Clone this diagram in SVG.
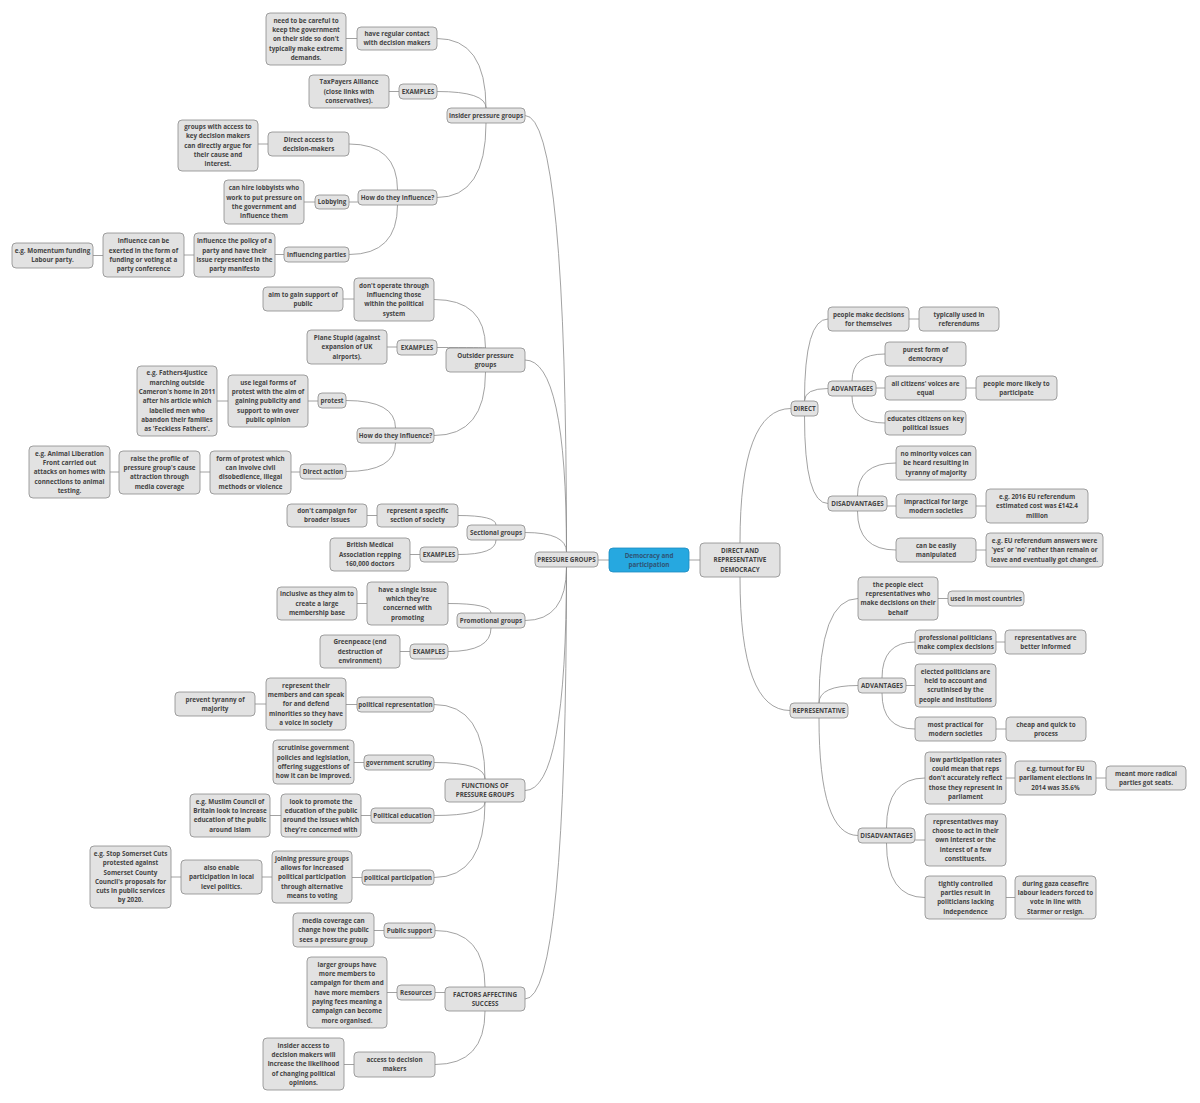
<svg xmlns="http://www.w3.org/2000/svg" width="1200" height="1103" viewBox="0 0 1200 1103">
<style>
rect{fill:#e2e2e2;stroke:#8a8a8a;stroke-width:0.8}
text{font-family:"Open Sans","Noto Sans",sans-serif;font-weight:bold;font-size:6.3px;fill:#444;text-anchor:middle}
#conn path{fill:none;stroke:#8a8a8a;stroke-width:0.8}
#root rect{fill:#26a8e0;stroke:#1d8ac0}
#root text{fill:#2f5475}
</style>
<rect x="0" y="0" width="1200" height="1103" style="fill:#fff;stroke:none"/>
<g id="conn">
<path d="M609,560H598M689,560H700"/>
<path d="M566.5,552Q566.5,115.5 525,115.5M566.5,552Q566.5,360 525,360M566.5,552Q566.5,532.5 525,532.5M566.5,567Q566.5,620.5 525,620.5M566.5,567Q566.5,790.5 525,790.5M566.5,567Q566.5,999 525,999"/>
<path d="M486,108Q486,38.5 437,38.5M486,108Q486,91.5 437,91.5M486,123Q486,197.5 437,197.5M357,38.5H346M399,91.5H389"/>
<path d="M397.5,190Q397.5,144 349,144M358,202H349M397.5,205Q397.5,254.5 349,254.5M268,144H258M315,202H304M284,254.5H275M194,255H184M103,255.5H93"/>
<path d="M485.5,348Q485.5,299.5 434,299.5M485.5,348Q485.5,347.5 437,347.5M485.5,372Q485.5,435.5 434,435.5M354,299H343M397,347H387"/>
<path d="M395.5,428Q395.5,400.5 346,400.5M395.5,443Q395.5,471.5 346,471.5M318,401H308M228,401H217M300,472H291M210,472H200M119,472H110"/>
<path d="M496,525Q496,515.5 458,515.5M496,540Q496,554.5 458,554.5M377,515.5H367M420,554.5H410"/>
<path d="M491,613Q491,603.5 448,603.5M491,628Q491,651.5 448,651.5M367,603.5H357M410,651.5H400"/>
<path d="M485,779Q485,704.5 434,704.5M485,779Q485,762.5 434,762.5M485,802Q485,815.5 434,815.5M485,802Q485,877.5 434,877.5M357,704.5H346M266,704H255M364,762.5H354M371,815.5H361M281,815.5H270M362,877.5H352M272,877H262M181,877H171"/>
<path d="M485,987Q485,930.5 435,930.5M445,992.5H435M485,1011Q485,1064.5 435,1064.5M384,930.5H374M397,992.5H387M354,1064.5H344"/>
<path d="M740,543Q740,408.5 791,408.5M740,577Q740,710.5 790,710.5"/>
<path d="M804.5,401Q804.5,319 828,319M804.5,401Q804.5,388.5 828,388.5M804.5,416Q804.5,503.5 828,503.5M909,319H919"/>
<path d="M852,381Q852,354 885,354M876,388H885M852,396Q852,423 885,423M966,388H976"/>
<path d="M857.5,496Q857.5,463 896,463M887,506H896M857.5,511Q857.5,550 896,550M976,506H986M976,550H986"/>
<path d="M819,703Q819,598.5 858,598.5M819,703Q819,685.5 858,685.5M819,718Q819,835.5 858,835.5M938,598.5H948"/>
<path d="M882,678Q882,642 915,642M906,685.5H915M882,693Q882,729 915,729M996,642H1005M996,729H1006"/>
<path d="M886.5,828Q886.5,778 925,778M915,840H925M886.5,843Q886.5,897.5 925,897.5M1006,778H1015M1096,778H1106M1006,897.5H1015"/>
</g>
<g id="root"><rect x="609" y="548" width="80" height="24" rx="4"/><text y="557.55"><tspan x="649">Democracy and</tspan><tspan x="649" dy="9.3">participation</tspan></text></g>
<g id="pg"><rect x="535" y="552" width="63" height="15" rx="4"/><text y="561.7"><tspan x="566.5">PRESSURE GROUPS</tspan></text></g>
<g id="dr"><rect x="700" y="543" width="80" height="34" rx="4"/><text y="552.9"><tspan x="740">DIRECT AND</tspan><tspan x="740" dy="9.3">REPRESENTATIVE</tspan><tspan x="740" dy="9.3">DEMOCRACY</tspan></text></g>

<g id="ins"><rect x="447" y="108" width="78" height="15" rx="4"/><text y="117.7"><tspan x="486">insider pressure groups</tspan></text></g>
<g id="ins1"><rect x="357" y="27" width="80" height="23" rx="4"/><text y="36.05"><tspan x="397">have regular contact</tspan><tspan x="397" dy="9.3">with decision makers</tspan></text></g>
<g id="ins1a"><rect x="266" y="13" width="80" height="52" rx="4"/><text y="22.6"><tspan x="306">need to be careful to</tspan><tspan x="306" dy="9.3">keep the government</tspan><tspan x="306" dy="9.3">on their side so don't</tspan><tspan x="306" dy="9.3">typically make extreme</tspan><tspan x="306" dy="9.3">demands.</tspan></text></g>
<g id="ins2"><rect x="399" y="84" width="38" height="15" rx="4"/><text y="93.7"><tspan x="418">EXAMPLES</tspan></text></g>
<g id="ins2a"><rect x="309" y="75" width="80" height="33" rx="4"/><text y="84.4"><tspan x="349">TaxPayers Alliance</tspan><tspan x="349" dy="9.3">(close links with</tspan><tspan x="349" dy="9.3">conservatives).</tspan></text></g>
<g id="ins3"><rect x="358" y="190" width="79" height="15" rx="4"/><text y="199.7"><tspan x="397.5">How do they influence?</tspan></text></g>
<g id="ins3a"><rect x="268" y="132" width="81" height="24" rx="4"/><text y="141.55"><tspan x="308.5">Direct access to</tspan><tspan x="308.5" dy="9.3">decision-makers</tspan></text></g>
<g id="ins3a1"><rect x="178" y="120" width="80" height="51" rx="4"/><text y="129.1"><tspan x="218">groups with access to</tspan><tspan x="218" dy="9.3">key decision makers</tspan><tspan x="218" dy="9.3">can directly argue for</tspan><tspan x="218" dy="9.3">their cause and</tspan><tspan x="218" dy="9.3">interest.</tspan></text></g>
<g id="ins3b"><rect x="315" y="195" width="34" height="14" rx="4"/><text y="204.2"><tspan x="332">Lobbying</tspan></text></g>
<g id="ins3b1"><rect x="224" y="180" width="80" height="44" rx="4"/><text y="190.25"><tspan x="264">can hire lobbyists who</tspan><tspan x="264" dy="9.3">work to put pressure on</tspan><tspan x="264" dy="9.3">the government and</tspan><tspan x="264" dy="9.3">influence them</tspan></text></g>
<g id="ins3c"><rect x="284" y="247" width="65" height="15" rx="4"/><text y="256.7"><tspan x="316.5">influencing parties</tspan></text></g>
<g id="ins3c1"><rect x="194" y="233" width="81" height="44" rx="4"/><text y="243.25"><tspan x="234.5">influence the policy of a</tspan><tspan x="234.5" dy="9.3">party and have their</tspan><tspan x="234.5" dy="9.3">issue represented in the</tspan><tspan x="234.5" dy="9.3">party manifesto</tspan></text></g>
<g id="ins3c2"><rect x="103" y="233" width="81" height="44" rx="4"/><text y="243.25"><tspan x="143.5">influence can be</tspan><tspan x="143.5" dy="9.3">exerted in the form of</tspan><tspan x="143.5" dy="9.3">funding or voting at a</tspan><tspan x="143.5" dy="9.3">party conference</tspan></text></g>
<g id="ins3c3"><rect x="12" y="243" width="81" height="25" rx="4"/><text y="253.05"><tspan x="52.5">e.g. Momentum funding</tspan><tspan x="52.5" dy="9.3">Labour party.</tspan></text></g>

<g id="out"><rect x="446" y="348" width="79" height="24" rx="4"/><text y="357.55"><tspan x="485.5">Outsider pressure</tspan><tspan x="485.5" dy="9.3">groups</tspan></text></g>
<g id="out1"><rect x="354" y="278" width="80" height="43" rx="4"/><text y="287.75"><tspan x="394">don't operate through</tspan><tspan x="394" dy="9.3">influencing those</tspan><tspan x="394" dy="9.3">within the political</tspan><tspan x="394" dy="9.3">system</tspan></text></g>
<g id="out1a"><rect x="263" y="287" width="80" height="24" rx="4"/><text y="296.55"><tspan x="303">aim to gain support of</tspan><tspan x="303" dy="9.3">public</tspan></text></g>
<g id="out2"><rect x="397" y="340" width="40" height="15" rx="4"/><text y="349.7"><tspan x="417">EXAMPLES</tspan></text></g>
<g id="out2a"><rect x="307" y="330" width="80" height="34" rx="4"/><text y="339.9"><tspan x="347">Plane Stupid (against</tspan><tspan x="347" dy="9.3">expansion of UK</tspan><tspan x="347" dy="9.3">airports).</tspan></text></g>
<g id="out3"><rect x="357" y="428" width="77" height="15" rx="4"/><text y="437.7"><tspan x="395.5">How do they influence?</tspan></text></g>
<g id="out3a"><rect x="318" y="393" width="28" height="15" rx="4"/><text y="402.7"><tspan x="332">protest</tspan></text></g>
<g id="out3a1"><rect x="228" y="375" width="80" height="52" rx="4"/><text y="384.6"><tspan x="268">use legal forms of</tspan><tspan x="268" dy="9.3">protest with the aim of</tspan><tspan x="268" dy="9.3">gaining publicity and</tspan><tspan x="268" dy="9.3">support to win over</tspan><tspan x="268" dy="9.3">public opinion</tspan></text></g>
<g id="out3a2"><rect x="137" y="366" width="80" height="70" rx="4"/><text y="375.3"><tspan x="177">e.g. Fathers4Justice</tspan><tspan x="177" dy="9.3">marching outside</tspan><tspan x="177" dy="9.3">Cameron's home in 2011</tspan><tspan x="177" dy="9.3">after his article which</tspan><tspan x="177" dy="9.3">labelled men who</tspan><tspan x="177" dy="9.3">abandon their families</tspan><tspan x="177" dy="9.3">as 'Feckless Fathers'.</tspan></text></g>
<g id="out3b"><rect x="300" y="464" width="46" height="15" rx="4"/><text y="473.7"><tspan x="323">Direct action</tspan></text></g>
<g id="out3b1"><rect x="210" y="451" width="81" height="43" rx="4"/><text y="460.75"><tspan x="250.5">form of protest which</tspan><tspan x="250.5" dy="9.3">can involve civil</tspan><tspan x="250.5" dy="9.3">disobedience, illegal</tspan><tspan x="250.5" dy="9.3">methods or violence</tspan></text></g>
<g id="out3b2"><rect x="119" y="451" width="81" height="43" rx="4"/><text y="460.75"><tspan x="159.5">raise the profile of</tspan><tspan x="159.5" dy="9.3">pressure group's cause</tspan><tspan x="159.5" dy="9.3">attraction through</tspan><tspan x="159.5" dy="9.3">media coverage</tspan></text></g>
<g id="out3b3"><rect x="29" y="446" width="81" height="52" rx="4"/><text y="455.6"><tspan x="69.5">e.g. Animal Liberation</tspan><tspan x="69.5" dy="9.3">Front carried out</tspan><tspan x="69.5" dy="9.3">attacks on homes with</tspan><tspan x="69.5" dy="9.3">connections to animal</tspan><tspan x="69.5" dy="9.3">testing.</tspan></text></g>

<g id="sec"><rect x="467" y="525" width="58" height="15" rx="4"/><text y="534.7"><tspan x="496">Sectional groups</tspan></text></g>
<g id="sec1"><rect x="377" y="504" width="81" height="23" rx="4"/><text y="513.05"><tspan x="417.5">represent a specific</tspan><tspan x="417.5" dy="9.3">section of society</tspan></text></g>
<g id="sec1a"><rect x="287" y="504" width="80" height="23" rx="4"/><text y="513.05"><tspan x="327">don't campaign for</tspan><tspan x="327" dy="9.3">broader issues</tspan></text></g>
<g id="sec2"><rect x="420" y="547" width="38" height="15" rx="4"/><text y="556.7"><tspan x="439">EXAMPLES</tspan></text></g>
<g id="sec2a"><rect x="330" y="538" width="80" height="33" rx="4"/><text y="547.4"><tspan x="370">British Medical</tspan><tspan x="370" dy="9.3">Association repping</tspan><tspan x="370" dy="9.3">160,000 doctors</tspan></text></g>

<g id="pro"><rect x="457" y="613" width="68" height="15" rx="4"/><text y="622.7"><tspan x="491">Promotional groups</tspan></text></g>
<g id="pro1"><rect x="367" y="582" width="81" height="43" rx="4"/><text y="591.75"><tspan x="407.5">have a single issue</tspan><tspan x="407.5" dy="9.3">which they're</tspan><tspan x="407.5" dy="9.3">concerned with</tspan><tspan x="407.5" dy="9.3">promoting</tspan></text></g>
<g id="pro1a"><rect x="277" y="587" width="80" height="33" rx="4"/><text y="596.4"><tspan x="317">inclusive as they aim to</tspan><tspan x="317" dy="9.3">create a large</tspan><tspan x="317" dy="9.3">membership base</tspan></text></g>
<g id="pro2"><rect x="410" y="644" width="38" height="15" rx="4"/><text y="653.7"><tspan x="429">EXAMPLES</tspan></text></g>
<g id="pro2a"><rect x="320" y="635" width="80" height="33" rx="4"/><text y="644.4"><tspan x="360">Greenpeace (end</tspan><tspan x="360" dy="9.3">destruction of</tspan><tspan x="360" dy="9.3">environment)</tspan></text></g>

<g id="fun"><rect x="445" y="779" width="80" height="23" rx="4"/><text y="788.05"><tspan x="485">FUNCTIONS OF</tspan><tspan x="485" dy="9.3">PRESSURE GROUPS</tspan></text></g>
<g id="fun1"><rect x="357" y="697" width="77" height="15" rx="4"/><text y="706.7"><tspan x="395.5">political representation</tspan></text></g>
<g id="fun1a"><rect x="266" y="678" width="80" height="52" rx="4"/><text y="687.6"><tspan x="306">represent their</tspan><tspan x="306" dy="9.3">members and can speak</tspan><tspan x="306" dy="9.3">for and defend</tspan><tspan x="306" dy="9.3">minorities so they have</tspan><tspan x="306" dy="9.3">a voice in society</tspan></text></g>
<g id="fun1b"><rect x="175" y="692" width="80" height="24" rx="4"/><text y="701.55"><tspan x="215">prevent tyranny of</tspan><tspan x="215" dy="9.3">majority</tspan></text></g>
<g id="fun2"><rect x="364" y="755" width="70" height="15" rx="4"/><text y="764.7"><tspan x="399">government scrutiny</tspan></text></g>
<g id="fun2a"><rect x="273" y="740" width="81" height="44" rx="4"/><text y="750.25"><tspan x="313.5">scrutinise government</tspan><tspan x="313.5" dy="9.3">policies and legislation,</tspan><tspan x="313.5" dy="9.3">offering suggestions of</tspan><tspan x="313.5" dy="9.3">how it can be improved.</tspan></text></g>
<g id="fun3"><rect x="371" y="808" width="63" height="15" rx="4"/><text y="817.7"><tspan x="402.5">Political education</tspan></text></g>
<g id="fun3a"><rect x="281" y="794" width="80" height="43" rx="4"/><text y="803.75"><tspan x="321">look to promote the</tspan><tspan x="321" dy="9.3">education of the public</tspan><tspan x="321" dy="9.3">around the issues which</tspan><tspan x="321" dy="9.3">they're concerned with</tspan></text></g>
<g id="fun3b"><rect x="190" y="794" width="80" height="43" rx="4"/><text y="803.75"><tspan x="230">e.g. Muslim Council of</tspan><tspan x="230" dy="9.3">Britain look to increase</tspan><tspan x="230" dy="9.3">education of the public</tspan><tspan x="230" dy="9.3">around Islam</tspan></text></g>
<g id="fun4"><rect x="362" y="870" width="72" height="15" rx="4"/><text y="879.7"><tspan x="398">political participation</tspan></text></g>
<g id="fun4a"><rect x="272" y="851" width="80" height="52" rx="4"/><text y="860.6"><tspan x="312">joining pressure groups</tspan><tspan x="312" dy="9.3">allows for increased</tspan><tspan x="312" dy="9.3">political participation</tspan><tspan x="312" dy="9.3">through alternative</tspan><tspan x="312" dy="9.3">means to voting</tspan></text></g>
<g id="fun4b"><rect x="181" y="860" width="81" height="34" rx="4"/><text y="869.9"><tspan x="221.5">also enable</tspan><tspan x="221.5" dy="9.3">participation in local</tspan><tspan x="221.5" dy="9.3">level politics.</tspan></text></g>
<g id="fun4c"><rect x="90" y="846" width="81" height="62" rx="4"/><text y="855.95"><tspan x="130.5">e.g. Stop Somerset Cuts</tspan><tspan x="130.5" dy="9.3">protested against</tspan><tspan x="130.5" dy="9.3">Somerset County</tspan><tspan x="130.5" dy="9.3">Council's proposals for</tspan><tspan x="130.5" dy="9.3">cuts in public services</tspan><tspan x="130.5" dy="9.3">by 2020.</tspan></text></g>

<g id="fac"><rect x="445" y="987" width="80" height="24" rx="4"/><text y="996.55"><tspan x="485">FACTORS AFFECTING</tspan><tspan x="485" dy="9.3">SUCCESS</tspan></text></g>
<g id="fac1"><rect x="384" y="923" width="51" height="15" rx="4"/><text y="932.7"><tspan x="409.5">Public support</tspan></text></g>
<g id="fac1a"><rect x="293" y="913" width="81" height="34" rx="4"/><text y="922.9"><tspan x="333.5">media coverage can</tspan><tspan x="333.5" dy="9.3">change how the public</tspan><tspan x="333.5" dy="9.3">sees a pressure group</tspan></text></g>
<g id="fac2"><rect x="397" y="985" width="38" height="15" rx="4"/><text y="994.7"><tspan x="416">Resources</tspan></text></g>
<g id="fac2a"><rect x="307" y="957" width="80" height="71" rx="4"/><text y="966.8"><tspan x="347">larger groups have</tspan><tspan x="347" dy="9.3">more members to</tspan><tspan x="347" dy="9.3">campaign for them and</tspan><tspan x="347" dy="9.3">have more members</tspan><tspan x="347" dy="9.3">paying fees meaning a</tspan><tspan x="347" dy="9.3">campaign can become</tspan><tspan x="347" dy="9.3">more organised.</tspan></text></g>
<g id="fac3"><rect x="354" y="1052" width="81" height="25" rx="4"/><text y="1062.05"><tspan x="394.5">access to decision</tspan><tspan x="394.5" dy="9.3">makers</tspan></text></g>
<g id="fac3a"><rect x="263" y="1038" width="81" height="52" rx="4"/><text y="1047.6"><tspan x="303.5">insider access to</tspan><tspan x="303.5" dy="9.3">decision makers will</tspan><tspan x="303.5" dy="9.3">increase the likelihood</tspan><tspan x="303.5" dy="9.3">of changing political</tspan><tspan x="303.5" dy="9.3">opinions.</tspan></text></g>

<g id="di"><rect x="791" y="401" width="27" height="15" rx="4"/><text y="410.7"><tspan x="804.5">DIRECT</tspan></text></g>
<g id="di1"><rect x="828" y="307" width="81" height="24" rx="4"/><text y="316.55"><tspan x="868.5">people make decisions</tspan><tspan x="868.5" dy="9.3">for themselves</tspan></text></g>
<g id="di1a"><rect x="919" y="307" width="80" height="24" rx="4"/><text y="316.55"><tspan x="959">typically used in</tspan><tspan x="959" dy="9.3">referendums</tspan></text></g>
<g id="di2"><rect x="828" y="381" width="48" height="15" rx="4"/><text y="390.7"><tspan x="852">ADVANTAGES</tspan></text></g>
<g id="di2a"><rect x="885" y="342" width="81" height="24" rx="4"/><text y="351.55"><tspan x="925.5">purest form of</tspan><tspan x="925.5" dy="9.3">democracy</tspan></text></g>
<g id="di2b"><rect x="885" y="376" width="81" height="24" rx="4"/><text y="385.55"><tspan x="925.5">all citizens' voices are</tspan><tspan x="925.5" dy="9.3">equal</tspan></text></g>
<g id="di2b1"><rect x="976" y="376" width="81" height="24" rx="4"/><text y="385.55"><tspan x="1016.5">people more likely to</tspan><tspan x="1016.5" dy="9.3">participate</tspan></text></g>
<g id="di2c"><rect x="885" y="411" width="81" height="24" rx="4"/><text y="420.55"><tspan x="925.5">educates citizens on key</tspan><tspan x="925.5" dy="9.3">political issues</tspan></text></g>
<g id="di3"><rect x="828" y="496" width="59" height="15" rx="4"/><text y="505.7"><tspan x="857.5">DISADVANTAGES</tspan></text></g>
<g id="di3a"><rect x="896" y="446" width="80" height="34" rx="4"/><text y="455.9"><tspan x="936">no minority voices can</tspan><tspan x="936" dy="9.3">be heard resulting in</tspan><tspan x="936" dy="9.3">tyranny of majority</tspan></text></g>
<g id="di3b"><rect x="896" y="494" width="80" height="24" rx="4"/><text y="503.55"><tspan x="936">impractical for large</tspan><tspan x="936" dy="9.3">modern societies</tspan></text></g>
<g id="di3b1"><rect x="986" y="489" width="102" height="34" rx="4"/><text y="498.9"><tspan x="1037">e.g. 2016 EU referendum</tspan><tspan x="1037" dy="9.3">estimated cost was £142.4</tspan><tspan x="1037" dy="9.3">million</tspan></text></g>
<g id="di3c"><rect x="896" y="538" width="80" height="24" rx="4"/><text y="547.55"><tspan x="936">can be easily</tspan><tspan x="936" dy="9.3">manipulated</tspan></text></g>
<g id="di3c1"><rect x="986" y="533" width="117" height="34" rx="4"/><text y="542.9"><tspan x="1044.5">e.g. EU referendum answers were</tspan><tspan x="1044.5" dy="9.3">'yes' or 'no' rather than remain or</tspan><tspan x="1044.5" dy="9.3">leave and eventually got changed.</tspan></text></g>

<g id="re"><rect x="790" y="703" width="58" height="15" rx="4"/><text y="712.7"><tspan x="819">REPRESENTATIVE</tspan></text></g>
<g id="re1"><rect x="858" y="577" width="80" height="43" rx="4"/><text y="586.75"><tspan x="898">the people elect</tspan><tspan x="898" dy="9.3">representatives who</tspan><tspan x="898" dy="9.3">make decisions on their</tspan><tspan x="898" dy="9.3">behalf</tspan></text></g>
<g id="re1a"><rect x="948" y="591" width="76" height="15" rx="4"/><text y="600.7"><tspan x="986">used in most countries</tspan></text></g>
<g id="re2"><rect x="858" y="678" width="48" height="15" rx="4"/><text y="687.7"><tspan x="882">ADVANTAGES</tspan></text></g>
<g id="re2a"><rect x="915" y="630" width="81" height="24" rx="4"/><text y="639.55"><tspan x="955.5">professional politicians</tspan><tspan x="955.5" dy="9.3">make complex decisions</tspan></text></g>
<g id="re2a1"><rect x="1005" y="630" width="81" height="24" rx="4"/><text y="639.55"><tspan x="1045.5">representatives are</tspan><tspan x="1045.5" dy="9.3">better informed</tspan></text></g>
<g id="re2b"><rect x="915" y="664" width="81" height="43" rx="4"/><text y="673.75"><tspan x="955.5">elected politicians are</tspan><tspan x="955.5" dy="9.3">held to account and</tspan><tspan x="955.5" dy="9.3">scrutinised by the</tspan><tspan x="955.5" dy="9.3">people and institutions</tspan></text></g>
<g id="re2c"><rect x="915" y="717" width="81" height="24" rx="4"/><text y="726.55"><tspan x="955.5">most practical for</tspan><tspan x="955.5" dy="9.3">modern societies</tspan></text></g>
<g id="re2c1"><rect x="1006" y="717" width="80" height="24" rx="4"/><text y="726.55"><tspan x="1046">cheap and quick to</tspan><tspan x="1046" dy="9.3">process</tspan></text></g>
<g id="re3"><rect x="858" y="828" width="57" height="15" rx="4"/><text y="837.7"><tspan x="886.5">DISADVANTAGES</tspan></text></g>
<g id="re3a"><rect x="925" y="752" width="81" height="52" rx="4"/><text y="761.6"><tspan x="965.5">low participation rates</tspan><tspan x="965.5" dy="9.3">could mean that reps</tspan><tspan x="965.5" dy="9.3">don't accurately reflect</tspan><tspan x="965.5" dy="9.3">those they represent in</tspan><tspan x="965.5" dy="9.3">parliament</tspan></text></g>
<g id="re3a1"><rect x="1015" y="761" width="81" height="34" rx="4"/><text y="770.9"><tspan x="1055.5">e.g. turnout for EU</tspan><tspan x="1055.5" dy="9.3">parliament elections in</tspan><tspan x="1055.5" dy="9.3">2014 was 35.6%</tspan></text></g>
<g id="re3a2"><rect x="1106" y="766" width="80" height="24" rx="4"/><text y="775.55"><tspan x="1146">meant more radical</tspan><tspan x="1146" dy="9.3">parties got seats.</tspan></text></g>
<g id="re3b"><rect x="925" y="814" width="81" height="52" rx="4"/><text y="823.6"><tspan x="965.5">representatives may</tspan><tspan x="965.5" dy="9.3">choose to act in their</tspan><tspan x="965.5" dy="9.3">own interest or the</tspan><tspan x="965.5" dy="9.3">interest of a few</tspan><tspan x="965.5" dy="9.3">constituents.</tspan></text></g>
<g id="re3c"><rect x="925" y="876" width="81" height="43" rx="4"/><text y="885.75"><tspan x="965.5">tightly controlled</tspan><tspan x="965.5" dy="9.3">parties result in</tspan><tspan x="965.5" dy="9.3">politicians lacking</tspan><tspan x="965.5" dy="9.3">independence</tspan></text></g>
<g id="re3c1"><rect x="1015" y="876" width="81" height="43" rx="4"/><text y="885.75"><tspan x="1055.5">during gaza ceasefire</tspan><tspan x="1055.5" dy="9.3">labour leaders forced to</tspan><tspan x="1055.5" dy="9.3">vote in line with</tspan><tspan x="1055.5" dy="9.3">Starmer or resign.</tspan></text></g>
</svg>
